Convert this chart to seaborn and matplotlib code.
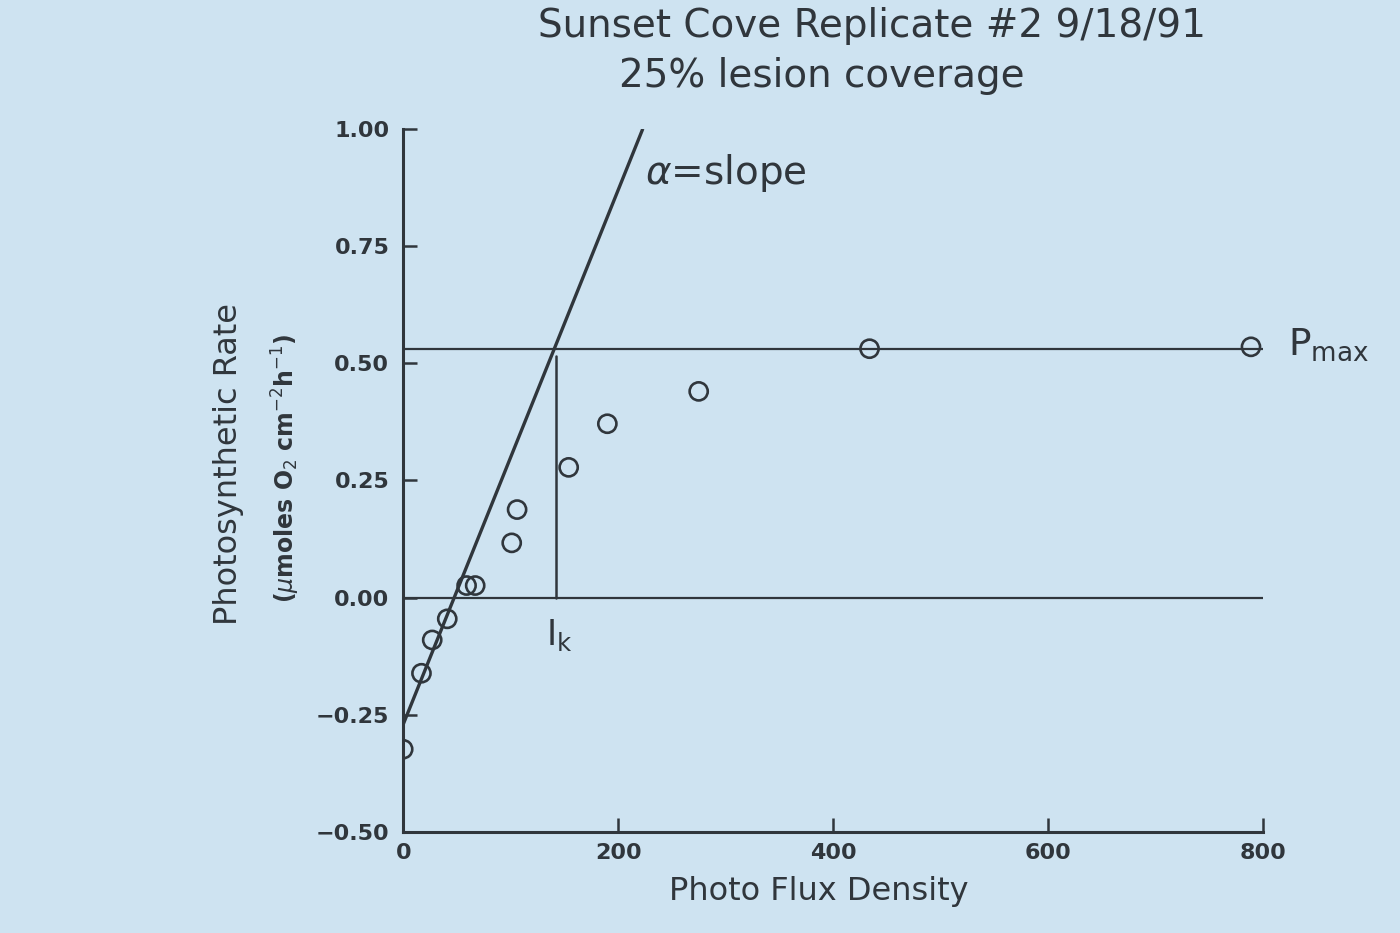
import matplotlib
matplotlib.use('Agg')
import matplotlib.pyplot as plt
import seaborn as sns
import pandas as pd

# measured points (photon flux density vs photosynthetic rate)
flux = [0, 17, 27, 41, 59, 67, 101, 106, 154, 190, 275, 434, 789]
rate = [-0.323, -0.161, -0.090, -0.045, 0.026, 0.026, 0.117, 0.188, 0.278, 0.371, 0.440, 0.531, 0.535]

# fitted guide lines
slope_x = [0, 223]
slope_y = [-0.27, 1.0]
pmax = 0.531
pmax_x = [0, 800]
zero_x = [0, 800]
ik = 142

x_ticks = [0, 200, 400, 600, 800]
y_ticks = [-0.50, -0.25, 0.00, 0.25, 0.50, 0.75, 1.00]

bg = '#cee3f1'
ink = '#30363c'

sns.set_theme(style="ticks")
plt.rcParams['font.family'] = ['DejaVu Sans']
plt.rcParams['mathtext.fontset'] = 'dejavusans'

fig = plt.figure(figsize=(14, 9.33), dpi=100, facecolor=bg)
ax = fig.add_axes([0.288, 0.108, 0.614, 0.754])
ax.set_facecolor(bg)

df = pd.DataFrame({'flux': flux, 'rate': rate})

# lines
ax.plot(slope_x, slope_y, color=ink, lw=2.4, solid_capstyle='butt', zorder=2)
ax.plot(pmax_x, [pmax, pmax], color=ink, lw=1.6, zorder=2)
ax.plot(zero_x, [0, 0], color=ink, lw=1.6, zorder=2)
ax.plot([ik, ik], [0, 0.516], color=ink, lw=1.8, zorder=2)

sns.scatterplot(data=df, x='flux', y='rate', ax=ax, marker='o', s=170,
                facecolors='none', edgecolor=ink, linewidth=1.9, zorder=3)

ax.set_xlim(0, 800)
ax.set_ylim(-0.5, 1.0)
ax.set_xticks(x_ticks)
ax.set_yticks(y_ticks)
ax.set_xticklabels([str(t) for t in x_ticks], fontsize=16, fontweight='bold', color=ink)
ax.set_yticklabels(['%.2f' % t if t >= 0 else '\u2212%.2f' % abs(t) for t in y_ticks],
                   fontsize=16, fontweight='bold', color=ink)
ax.tick_params(axis='both', direction='in', length=10, width=1.8, color=ink)
ax.tick_params(axis='x', pad=8)
ax.tick_params(axis='y', pad=10)

for side in ['top', 'right']:
    ax.spines[side].set_visible(False)
for side in ['left', 'bottom']:
    ax.spines[side].set_color(ink)
    ax.spines[side].set_linewidth(2.2)
ax.spines['left'].set_bounds(-0.5, 1.0)
ax.spines['bottom'].set_bounds(0, 800)
ax.set_xlabel('')
ax.set_ylabel('')

# labels and titles
fig.text(0.623, 0.972, 'Sunset Cove Replicate #2 9/18/91', ha='center', va='center',
         fontsize=28, color=ink)
fig.text(0.587, 0.919, '25% lesion coverage', ha='center', va='center',
         fontsize=28, color=ink)
fig.text(0.585, 0.044, 'Photo Flux Density', ha='center', va='center',
         fontsize=23, color=ink)
fig.text(0.163, 0.503, 'Photosynthetic Rate', ha='center', va='center',
         rotation=90, fontsize=23, color=ink)
fig.text(0.204, 0.498, r'($\mu$moles O$_2$ cm$^{-2}$h$^{-1}$)', ha='center', va='center',
         rotation=90, fontsize=17, fontweight='bold', color=ink)

ax.text(225, 0.905, r'$\alpha$=slope', fontsize=28, color=ink, va='center')
ax.text(823, 0.54, r'P$_{\rm max}$', fontsize=27, color=ink, va='center')
ax.text(ik - 9, -0.08, r'I$_{\rm k}$', fontsize=25, color=ink, va='center')

fig.savefig('out.png', dpi=100, facecolor=bg)
